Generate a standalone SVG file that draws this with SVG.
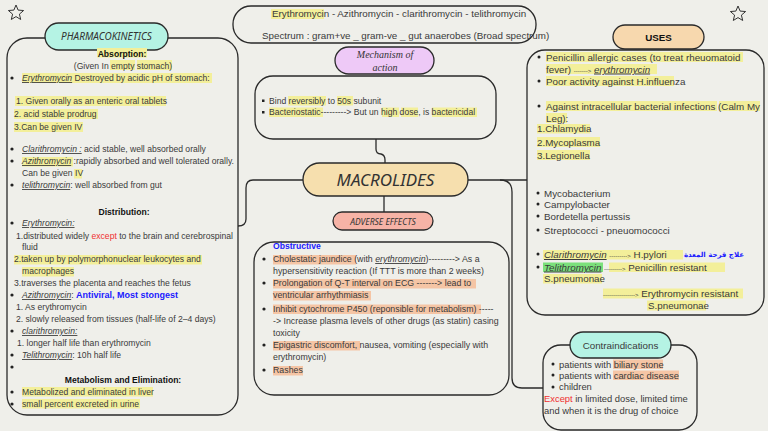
<svg xmlns="http://www.w3.org/2000/svg" width="768" height="431" viewBox="0 0 768 431">
<defs>
<style>
.bg{fill:#efefea}
.panel{fill:#efefea;stroke:#2a2a2a;stroke-width:1.3}
.pill{stroke:#2a2a2a;stroke-width:1.3}
.conn{fill:none;stroke:#2a2a2a;stroke-width:1.3}
.t{font-family:"Liberation Sans",Arial,sans-serif;font-size:8.6px;fill:#3a3a3a}
.u{font-family:"Liberation Sans",Arial,sans-serif;font-size:9.8px;fill:#3a3a3a}
.b{font-weight:bold;fill:#111}
.i{font-style:italic;text-decoration:underline}
.blue{fill:#1a1aff;font-weight:bold}
.red{fill:#f03030}
.hl{fill:#f3ef9a}
.ho{fill:#f5c5a5}
.hg{fill:#7be07b}
.title{font-family:"Noto Sans","DejaVu Sans",sans-serif;font-style:italic;fill:#333}
.dot{fill:#222}
</style>
<polygon id="star" points="0,-8 2.12,-2.91 7.61,-2.47 3.42,1.11 4.7,6.47 0,3.6 -4.7,6.47 -3.42,1.11 -7.61,-2.47 -2.12,-2.91" fill="none" stroke="#333" stroke-width="1"/>
</defs>
<rect class="bg" x="0" y="0" width="768" height="431"/>
<use href="#star" x="16" y="13"/>
<use href="#star" x="738" y="14"/>

<g id="connectors">
<path class="conn" d="M376,139 V149 Q376,154 381,154 Q385,155 385,160 V163"/>
<path class="conn" d="M384,196 V212"/>
<path class="conn" d="M303,180 H253 Q246,180 246,188 V219 Q246,226 238,226"/>
<path class="conn" d="M468,180 H527"/>
<path class="conn" d="M500,180 Q512,180 512,192 V378 Q512,388 522,388 H543"/>
</g>

<g id="pharmacokinetics">
<rect class="panel" x="7" y="38" width="231" height="377" rx="20"/>
<rect class="pill" x="45" y="23" width="123" height="27" rx="13.5" fill="#b5f3e4"/>
<text class="title" x="106.5" y="40" font-size="10" text-anchor="middle">PHARMACOKINETICS</text>
<rect class="hl" x="97" y="48" width="50" height="9.5"/>
<rect class="hl" x="110" y="60" width="25" height="10"/>
<rect class="hl" x="137" y="60" width="35" height="10"/>
<rect class="hl" x="22" y="73" width="190" height="10"/>
<rect class="hl" x="15" y="96" width="151" height="10"/>
<rect class="hl" x="14" y="109" width="84" height="10"/>
<rect class="hl" x="14" y="122" width="69" height="10"/>
<rect class="hl" x="22" y="157" width="51" height="9.5"/>
<rect class="hl" x="74" y="169" width="8" height="9.5"/>
<rect class="hl" x="14" y="255" width="188" height="9.5"/>
<rect class="hl" x="22" y="267" width="52" height="9.5"/>
<rect class="hl" x="22" y="387" width="131" height="9.5"/>
<rect class="hl" x="22" y="399" width="118" height="9.5"/>
<text class="t b" x="122" y="56.5" text-anchor="middle" font-size="9.4">Absorption:</text>
<text class="t" x="123" y="68.5" text-anchor="middle" font-size="9.5">(Given In empty stomach)</text>
<circle class="dot" cx="12" cy="78" r="1.6"/>
<text class="t" x="22" y="81"><tspan class="i">Erythromycin</tspan> Destroyed by acidic pH of stomach:</text>
<text class="t" x="16" y="104">1. Given orally as an enteric oral tablets</text>
<text class="t" x="14" y="117">2.  acid stable prodrug</text>
<text class="t" x="14" y="130">3.Can be given IV</text>
<circle class="dot" cx="12" cy="149" r="1.6"/>
<text class="t" x="22" y="152"><tspan class="i">Clarithromycin :</tspan> acid stable, well absorbed orally</text>
<circle class="dot" cx="12" cy="161" r="1.6"/>
<text class="t" x="22" y="164"><tspan class="i">Azithromycin</tspan> :rapidly absorbed and well tolerated orally.</text>
<text class="t" x="22" y="176">Can be given IV</text>
<circle class="dot" cx="12" cy="185" r="1.6"/>
<text class="t" x="22" y="188"><tspan class="i">telithromycin</tspan>: well absorbed from gut</text>
<text class="t b" x="124" y="214.5" text-anchor="middle" font-size="9.4">Distribution:</text>
<circle class="dot" cx="12" cy="223" r="1.6"/>
<text class="t" x="22" y="226"><tspan class="i">Erythromycin:</tspan></text>
<text class="t" x="16" y="239">1.distributed widely <tspan class="red">except</tspan> to the brain and cerebrospinal</text>
<text class="t" x="22" y="250">fluid</text>
<text class="t" x="14" y="262">2.taken up by polymorphonuclear leukocytes and</text>
<text class="t" x="22" y="274">macrophages</text>
<text class="t" x="14" y="286">3.traverses the placenta and reaches the fetus</text>
<circle class="dot" cx="12" cy="295" r="1.6"/>
<text class="t" x="22" y="298"><tspan class="i">Azithromycin</tspan>:  <tspan class="blue" font-size="9">Antiviral, Most stongest</tspan></text>
<text class="t" x="16" y="310">1. As erythromycin</text>
<text class="t" x="16" y="322">2. slowly released from tissues (half-life of 2–4 days)</text>
<circle class="dot" cx="12" cy="331" r="1.6"/>
<text class="t" x="22" y="334"><tspan class="i">clarithromycin:</tspan></text>
<text class="t" x="17" y="346">1. longer half life than erythromycin</text>
<circle class="dot" cx="12" cy="355" r="1.6"/>
<text class="t" x="22" y="358"><tspan class="i">Telithromycin</tspan>: 10h half life</text>
<circle class="dot" cx="12" cy="367" r="1.6"/>
<text class="t b" x="123" y="382.5" text-anchor="middle" font-size="9.4">Metabolism and Elimination:</text>
<circle class="dot" cx="12" cy="392" r="1.6"/>
<text class="t" x="22" y="395">Metabolized and eliminated in liver</text>
<circle class="dot" cx="12" cy="404" r="1.6"/>
<text class="t" x="22" y="407">small percent excreted in urine</text>
</g>

<g id="spectrum">
<rect class="panel" x="233" y="6" width="303" height="37" rx="18"/>
<rect class="hl" x="271" y="9" width="53" height="10"/>
<text class="u" x="272" y="16.5" font-size="8.7">Erythromycin - Azithromycin - clarithromycin - telithromycin</text>
<text class="u" x="262" y="39" font-size="8.5">Spectrum : gram+ve _ gram-ve  _ gut anaerobes (Broad spectrum)</text>
</g>

<g id="mechanism">
<rect class="panel" x="255" y="76" width="241" height="63" rx="18"/>
<rect class="pill" x="335" y="47" width="99" height="27" rx="13.5" fill="#eec9f7"/>
<text x="385" y="58" text-anchor="middle" font-family="'Liberation Serif',serif" font-style="italic" font-size="10" fill="#333">Mechanism of</text>
<text x="385" y="71" text-anchor="middle" font-family="'Liberation Serif',serif" font-style="italic" font-size="10" fill="#333">action</text>
<rect class="hl" x="288" y="96" width="38" height="9.5"/>
<rect class="hl" x="337" y="96" width="16" height="9.5"/>
<rect class="hl" x="269" y="107.5" width="54" height="9.5"/>
<rect class="hl" x="382" y="107.5" width="17" height="9.5"/>
<rect class="hl" x="401" y="107.5" width="17" height="9.5"/>
<rect class="hl" x="432" y="107.5" width="45" height="9.5"/>
<rect class="dot" x="262" y="99.5" width="2.5" height="2.5"/>
<text class="t" x="269" y="104">Bind reversibly to 50s subunit</text>
<rect class="dot" x="262" y="111" width="2.5" height="2.5"/>
<text class="t" x="269" y="115">Bacteriostatic---------&gt; But un high dose, is bactericidal</text>
</g>

<g id="macrolides">
<rect class="pill" x="303" y="163" width="165" height="33" rx="16.5" fill="#f6dfae"/>
<text class="title" x="385.5" y="186" text-anchor="middle" font-size="17" font-style="italic">MACROLIDES</text>
</g>

<g id="adverse">
<rect class="panel" x="254" y="242" width="255" height="153" rx="20"/>
<rect class="pill" x="333" y="212" width="100" height="18" rx="9" fill="#f6b3a6"/>
<text class="title" x="383" y="224.5" text-anchor="middle" font-size="8.5">ADVERSE EFFECTS</text>
<text class="t blue" x="273" y="249" font-size="8.6">Obstructive</text>
<rect class="ho" x="273" y="255" width="83" height="9.5"/>
<rect class="ho" x="273" y="279" width="203" height="9.5"/>
<rect class="ho" x="273" y="291" width="98" height="9.5"/>
<rect class="ho" x="273" y="304.5" width="208" height="9.5"/>
<rect class="ho" x="273" y="341" width="87" height="9.5"/>
<rect class="ho" x="273" y="366" width="30" height="9.5"/>
<circle class="dot" cx="264" cy="259" r="1.6"/>
<text class="t" style="font-size:8.8px" x="273" y="262">Cholestatic jaundice (with <tspan class="i">erythromycin</tspan>)---------&gt; As a</text>
<text class="t" style="font-size:8.8px" x="273" y="274">hypersensitivity reaction (If TTT is more than 2 weeks)</text>
<circle class="dot" cx="264" cy="283" r="1.6"/>
<text class="t" style="font-size:8.8px" x="273" y="286">Prolongation of Q-T interval on ECG -------&gt; lead to</text>
<text class="t" style="font-size:8.8px" x="273" y="298">ventricular arrhythmiasis</text>
<circle class="dot" cx="264" cy="309" r="1.6"/>
<text class="t" style="font-size:8.8px" x="273" y="312">Inhibit cytochrome P450 (reponsible for metabolism) -----</text>
<text class="t" style="font-size:8.8px" x="273" y="324">-&gt; Increase plasma levels of other drugs (as statin) casing</text>
<text class="t" style="font-size:8.8px" x="273" y="336">toxicity</text>
<circle class="dot" cx="264" cy="345" r="1.6"/>
<text class="t" style="font-size:8.8px" x="273" y="348">Epigastric discomfort, nausea, vomiting (especially with</text>
<text class="t" style="font-size:8.8px" x="273" y="360">erythromycin)</text>
<circle class="dot" cx="264" cy="370" r="1.6"/>
<text class="t" style="font-size:8.8px" x="273" y="373">Rashes</text>
</g>

<g id="uses">
<rect class="panel" x="527" y="50" width="237" height="265" rx="18"/>
<rect class="pill" x="613" y="25" width="91" height="24" rx="12" fill="#f7d8ae"/>
<text class="u b" x="658.5" y="41" text-anchor="middle" font-size="11" fill="#222">USES</text>
<rect class="hl" x="546" y="52" width="197" height="10"/>
<rect class="hl" x="546" y="64" width="111" height="10"/>
<rect class="hl" x="546" y="76" width="128" height="10"/>
<rect class="hl" x="546" y="101" width="171" height="10"/>
<rect class="hl" x="719" y="101" width="41" height="10"/>
<rect class="hl" x="546" y="113" width="21" height="10"/>
<rect class="hl" x="537" y="124" width="53" height="9.5"/>
<rect class="hl" x="537" y="137" width="63" height="10"/>
<rect class="hl" x="537" y="150" width="53" height="10"/>
<rect class="hl" x="543" y="250" width="140" height="9.5"/>
<rect class="hg" x="543" y="262.5" width="60" height="9.5"/>
<rect class="hl" x="609" y="262.5" width="116" height="9.5"/>
<rect class="hl" x="543" y="274" width="59" height="9.5"/>
<rect class="hl" x="603" y="288.5" width="140" height="10"/>
<rect class="hl" x="647" y="300.5" width="59" height="10"/>
<circle class="dot" cx="539" cy="57" r="1.5"/>
<text class="u" x="546" y="60.5">Penicillin allergic cases (to treat rheuomatoid</text>
<text class="u" x="546" y="72.5">fever) <tspan font-size="6">-------&gt;</tspan> <tspan class="i">erythromycin</tspan></text>
<circle class="dot" cx="539" cy="81" r="1.5"/>
<text class="u" x="546" y="84.5">Poor activity against H.influenza</text>
<circle class="dot" cx="539" cy="106" r="1.5"/>
<text class="u" x="546" y="109.5">Against intracellular bacterial infections (Calm My</text>
<text class="u" x="546" y="121.5">Leg):</text>
<text class="u" x="537" y="132">1.Chlamydia</text>
<text class="u" x="537" y="145.5">2.Mycoplasma</text>
<text class="u" x="537" y="158.5">3.Legionella</text>
<circle class="dot" cx="538" cy="193" r="1.5"/>
<text class="u" x="544" y="196.5">Mycobacterium</text>
<circle class="dot" cx="538" cy="204" r="1.5"/>
<text class="u" x="544" y="207.5">Campylobacter</text>
<circle class="dot" cx="538" cy="216" r="1.5"/>
<text class="u" x="544" y="219.5">Bordetella pertussis</text>
<circle class="dot" cx="538" cy="230" r="1.5"/>
<text class="u" x="544" y="233.5">Streptococci - pneuomococci</text>
<circle class="dot" cx="538" cy="254" r="1.5"/>
<text class="u" x="544" y="258"><tspan class="i">Clarithromycin</tspan> <tspan font-size="6">---------&gt;</tspan> H.pylori</text>
<text x="744" y="256.5" text-anchor="end" font-family="'DejaVu Sans','Noto Sans',sans-serif" font-size="7" font-weight="bold" fill="#1a1aff">علاج قرحة المعدة</text>
<circle class="dot" cx="538" cy="267" r="1.5"/>
<text class="u" x="544" y="270.5"><tspan class="i">Telithromycin</tspan>  <tspan font-size="6">---------&gt;</tspan> Penicillin resistant</text>
<text class="u" x="544" y="282">S.pneumonae</text>
<text class="u" x="603" y="296.5"><tspan font-size="6">----------------&gt;</tspan> Erythromycin resistant</text>
<text class="u" x="648" y="308.5">S.pneumonae</text>
</g>

<g id="contraindications">
<rect class="panel" x="543" y="345" width="154" height="85" rx="18"/>
<rect class="pill" x="570" y="332" width="101" height="26" rx="13" fill="#b5f3e4"/>
<text class="u" x="620.5" y="348.5" text-anchor="middle" font-size="10.5" fill="#222">Contraindications</text>
<rect class="ho" x="613" y="359.5" width="50" height="9.5"/>
<rect class="ho" x="613" y="370.5" width="66" height="9.5"/>
<circle class="dot" cx="553" cy="364" r="1.5"/>
<text class="u" style="font-size:9.4px" x="559" y="367.5">patients with biliary stone</text>
<circle class="dot" cx="553" cy="375" r="1.5"/>
<text class="u" style="font-size:9.4px" x="559" y="378.5">patients with cardiac disease</text>
<circle class="dot" cx="553" cy="387" r="1.5"/>
<text class="u" style="font-size:9.4px" x="559" y="390">children</text>
<text class="u" style="font-size:9.4px" x="544" y="402"><tspan class="red">Except</tspan> in limited dose, limited time</text>
<text class="u" style="font-size:9.4px" x="544" y="413.5">and when it is the drug of choice</text>
</g>
</svg>
